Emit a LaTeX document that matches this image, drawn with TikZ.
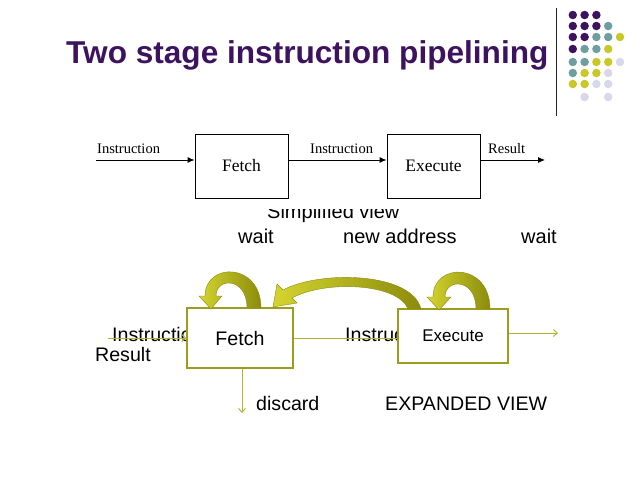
\documentclass[tikz,border=0pt]{standalone}
\usepackage{fontspec}
\setmainfont{Liberation Sans}
\newfontfamily\seriffont{Liberation Serif}
\usetikzlibrary{arrows.meta}
\definecolor{ttlpurple}{HTML}{3D1360}
\definecolor{dotP}{HTML}{3D1360}
\definecolor{dotT}{HTML}{6E9E9E}
\definecolor{dotY}{HTML}{C8C828}
\definecolor{dotL}{HTML}{D8D8EA}
\definecolor{olv}{HTML}{9C9C1E}
\definecolor{olvthin}{HTML}{B4B42A}
\definecolor{ylight}{HTML}{D4D430}
\definecolor{ydark}{HTML}{8C8C0C}
\begin{document}
\begin{tikzpicture}[x=1pt,y=-1pt,
  dot/.style={circle,inner sep=0pt,minimum size=8.5pt},
  topbox/.style={draw,line width=0.9pt,minimum width=93pt,minimum height=64pt,inner sep=0pt,font=\seriffont\fontsize{17.5}{20}\selectfont},
  toplbl/.style={anchor=base west,inner sep=0pt,font=\seriffont\fontsize{14.5}{17}\selectfont},
  toparrow/.style={line width=0.9pt,-{Latex[length=7pt,width=6pt]}},
  lbl/.style={anchor=base west,inner sep=0pt,font=\fontsize{19.6}{23}\selectfont},
  botbox/.style={draw=olv,line width=1.4pt,fill=white,inner sep=0pt},
  thinarrow/.style={draw=olvthin,line width=0.9pt,-{Straight Barb[length=4pt,width=7pt]}},
  bigarrow/.style={left color=ylight,right color=ydark,draw=ydark,line width=0.4pt}
]
\useasboundingbox (0,0) rectangle (638,479);
\fill[white] (0,0) rectangle (638,479);
% title
\node[anchor=base west,inner sep=0pt,text=ttlpurple,font=\bfseries\fontsize{31.6}{36}\selectfont] (title) at (66,63) {Two stage instruction pipelining};
% vertical rule
\coordinate (vrA) at (556,8);
\coordinate (vrB) at (556,116);
\draw[line width=0.9pt,black!85] (vrA) -- (vrB);
% dots
\foreach \row/\y/\cols in {1/15/{1/P,2/P,3/P},2/26/{1/P,2/P,3/P,4/T},3/37/{1/P,2/P,3/T,4/T,5/Y},4/49/{1/P,2/T,3/T,4/Y},5/62/{1/T,2/T,3/Y,4/Y,5/L},6/73/{1/T,2/Y,3/Y,4/L},7/84/{1/Y,2/Y,3/L,4/L},8/97/{2/L,4/L}}{
  \foreach \c/\k in \cols {
    \node[dot,fill=dot\k] (d\row-\c) at ({561+11.8*\c},\y) {};
  }
}
% simplified view (partially hidden)
\node[anchor=base west,inner sep=0pt,font=\fontsize{20}{24}\selectfont] (simp) at (267,218) {Simplified view};
\fill[white] (80,120) rectangle (560,208.5);
% top diagram
\node[topbox] (f1) at (241.5,166) {Fetch};
\node[topbox] (e1) at (433.5,166) {Execute};
\coordinate (inA) at (96,160);
\coordinate (outA) at (545,160);
\draw[toparrow] (inA) -- (inA -| f1.west);
\draw[toparrow] (inA -| f1.east) -- (inA -| e1.west);
\draw[toparrow] (inA -| e1.east) -- (outA);
\node[toplbl] (l1) at (97,153) {Instruction};
\node[toplbl] (l2) at (310,153) {Instruction};
\node[toplbl] (l3) at (488,153) {Result};
% labels
\node[lbl,font=\fontsize{20}{24}\selectfont] (w1) at (238,243) {wait};
\node[lbl,font=\fontsize{20}{24}\selectfont] (na) at (343,243) {new address};
\node[lbl,font=\fontsize{20}{24}\selectfont] (w2) at (521,243) {wait};
% bottom diagram texts under boxes
\node[lbl] (bi1) at (112,341) {Instruction};
\node[lbl] (bi2) at (345,341) {Instruction};
\node[lbl] (res) at (95,361) {Result};
\node[lbl] (disc) at (256,410) {discard};
\node[lbl] (exv) at (385,410.5) {EXPANDED VIEW};
% boxes
\node[botbox,minimum width=106pt,minimum height=60pt,font=\fontsize{19.6}{23}\selectfont] (f2) at (240,338) {Fetch};
\node[botbox,minimum width=110pt,minimum height=54pt,font=\fontsize{17}{20}\selectfont] (e2) at (453,336) {Execute};
% thin connectors
\coordinate (inB) at (108,338);
\coordinate (outB) at (558,333);
\coordinate (dB) at (242,413);
\draw[thinarrow] (inB) -- (inB -| f2.west);
\draw[draw=olvthin,line width=0.9pt] (f2.east) -- (f2.east -| e2.west);
\draw[thinarrow] (outB -| e2.east) -- (outB);
\draw[thinarrow] (dB |- f2.south) -- (dB);
% curved block arrows
\path[bigarrow] (247,308) .. controls (247,277) and (216,277) .. (216,296) -- (222,296) -- (211,309) -- (199,296) -- (205,296) .. controls (205,262) and (261,262) .. (261,308) -- cycle;
\path[bigarrow] (476,309) .. controls (476,278) and (445,278) .. (445,297) -- (451,297) -- (439,310) -- (427,297) -- (433,297) .. controls (433,262) and (490,262) .. (490,309) -- cycle;
\path[bigarrow] (408,309) .. controls (398,283) and (325,280) .. (292,298) -- (297,303) -- (273,307) -- (277,284) -- (283,290) .. controls (320,270) and (412,272) .. (421,309) -- cycle;
\end{tikzpicture}
\end{document}
